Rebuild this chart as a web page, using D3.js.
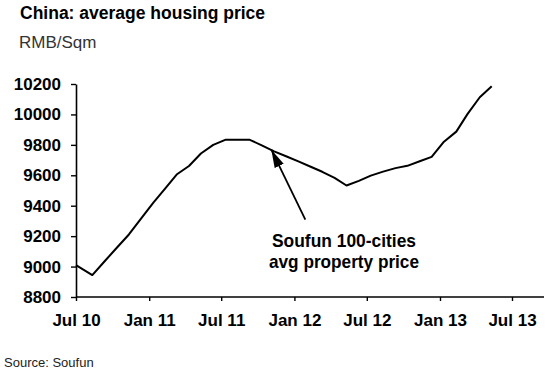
<!DOCTYPE html>
<html>
<head>
<meta charset="utf-8">
<script src="https://cdn.jsdelivr.net/npm/d3@7"></script>
<style>
  body { margin: 0; background: #fff; }
  svg { font-family: "Liberation Sans", Arial, sans-serif; }
</style>
</head>
<body>
<svg width="550" height="376"></svg>
<script>
// Soufun 100-cities average price, RMB/Sqm
var dates = ["2010-07-01", "2010-08-11", "2010-09-11", "2010-10-11", "2010-11-11", "2010-12-11",
    "2011-01-11", "2011-02-11", "2011-03-11", "2011-04-11", "2011-05-11", "2011-06-11",
    "2011-07-11", "2011-08-11", "2011-09-11", "2011-10-11", "2011-11-11", "2011-12-11",
    "2012-01-11", "2012-02-11", "2012-03-11", "2012-04-11", "2012-05-11", "2012-06-11",
    "2012-07-11", "2012-08-11", "2012-09-11", "2012-10-11", "2012-11-11", "2012-12-11",
    "2013-01-11", "2013-02-11", "2013-03-11", "2013-04-11", "2013-05-11"];
var prices = [9010, 8944, 9035, 9122, 9211, 9313,
    9418, 9515, 9605, 9661, 9743, 9800,
    9833, 9833, 9833, 9797, 9757, 9725,
    9691, 9656, 9623, 9583, 9533, 9563,
    9598, 9624, 9647, 9662, 9692, 9721,
    9821, 9887, 10002, 10113, 10185];

var xTicks = ["2010-07-01", "2011-01-01", "2011-07-01", "2012-01-01", "2012-07-01", "2013-01-01", "2013-07-01"];
var xTickLabels = ["Jul 10", "Jan 11", "Jul 11", "Jan 12", "Jul 12", "Jan 13", "Jul 13"];
var yTicks = [8800, 9000, 9200, 9400, 9600, 9800, 10000, 10200];

var title = "China: average housing price";
var unit = "RMB/Sqm";
var source = "Source: Soufun";
var noteLines = ["Soufun 100-cities", "avg property price"];
var noteAt = {date: "2011-11-04", value: 9768};

var parse = d3.timeParse("%Y-%m-%d");
var data = dates.map(function (d, i) {
    return {date: parse(d), value: prices[i]};
});

var svg = d3.select("svg");
var plotLeft = 76, plotTop = 84, plotBottom = 297;

var x = d3.scaleTime()
    .domain([parse("2010-07-01"), parse("2013-07-01")])
    .range([plotLeft, 512]);
var xEnd = 544;
var y = d3.scaleLinear()
    .domain([8800, 10200])
    .range([plotBottom, plotTop]);

// titles
svg.append("text")
    .attr("x", 20).attr("y", 19)
    .style("font-size", "17.5px").style("font-weight", "bold")
    .attr("fill", "#000")
    .text(title);
svg.append("text")
    .attr("x", 19).attr("y", 48)
    .style("font-size", "17px")
    .attr("fill", "#333")
    .text(unit);
svg.append("text")
    .attr("x", 4).attr("y", 367)
    .style("font-size", "13px")
    .attr("fill", "#222")
    .text(source);

// y axis
var yAxis = svg.append("g")
    .attr("transform", "translate(" + plotLeft + ",0)")
    .call(d3.axisLeft(y).tickValues(yTicks).tickFormat(d3.format("d"))
        .tickSize(5).tickSizeOuter(0).tickPadding(10));
yAxis.select(".domain").attr("stroke-width", 1.6);
yAxis.selectAll(".tick line").attr("stroke-width", 1.4);
yAxis.selectAll("text")
    .style("font-size", "17px").style("font-weight", "bold")
    .style("font-family", "'Liberation Sans', Arial, sans-serif")
    .attr("fill", "#000");

// x axis
var xAxis = svg.append("g")
    .attr("transform", "translate(0," + plotBottom + ")")
    .call(d3.axisBottom(x)
        .tickValues(xTicks.map(parse))
        .tickFormat(function (d, i) { return xTickLabels[i]; })
        .tickSize(4).tickSizeOuter(0).tickPadding(13));
xAxis.select(".domain")
    .attr("d", "M" + plotLeft + ",0H" + xEnd)
    .attr("stroke-width", 1.6);
xAxis.selectAll(".tick line").attr("stroke-width", 1.4);
xAxis.selectAll("text")
    .style("font-size", "17px").style("font-weight", "bold")
    .style("font-family", "'Liberation Sans', Arial, sans-serif")
    .attr("fill", "#000");

// price line
var line = d3.line()
    .x(function (d) { return x(d.date); })
    .y(function (d) { return y(d.value); });
svg.append("path")
    .datum(data)
    .attr("fill", "none")
    .attr("stroke", "#000")
    .attr("stroke-width", 2)
    .attr("stroke-linejoin", "round")
    .attr("d", line);

// annotation arrow
svg.append("defs").append("marker")
    .attr("id", "arrow")
    .attr("viewBox", "0 0 18 10")
    .attr("refX", 18).attr("refY", 5)
    .attr("markerWidth", 18).attr("markerHeight", 10)
    .attr("markerUnits", "userSpaceOnUse")
    .attr("orient", "auto")
    .append("path")
    .attr("d", "M0,0L18,5L0,10Z")
    .attr("fill", "#000");

var tipX = x(parse(noteAt.date)), tipY = y(noteAt.value);
svg.append("line")
    .attr("x1", tipX + 34).attr("y1", tipY + 70)
    .attr("x2", tipX).attr("y2", tipY)
    .attr("stroke", "#000")
    .attr("stroke-width", 1.8)
    .attr("marker-end", "url(#arrow)");

var note = svg.append("text")
    .attr("text-anchor", "middle")
    .style("font-size", "19px").style("font-weight", "bold")
    .attr("fill", "#000");
note.selectAll("tspan")
    .data(noteLines)
    .enter().append("tspan")
    .attr("x", 344)
    .attr("y", function (d, i) { return 246.5 + i * 21; })
    .attr("textLength", function (d, i) { return i == 0 ? 144 : 150; })
    .attr("lengthAdjust", "spacingAndGlyphs")
    .text(function (d) { return d; });
</script>
</body>
</html>
